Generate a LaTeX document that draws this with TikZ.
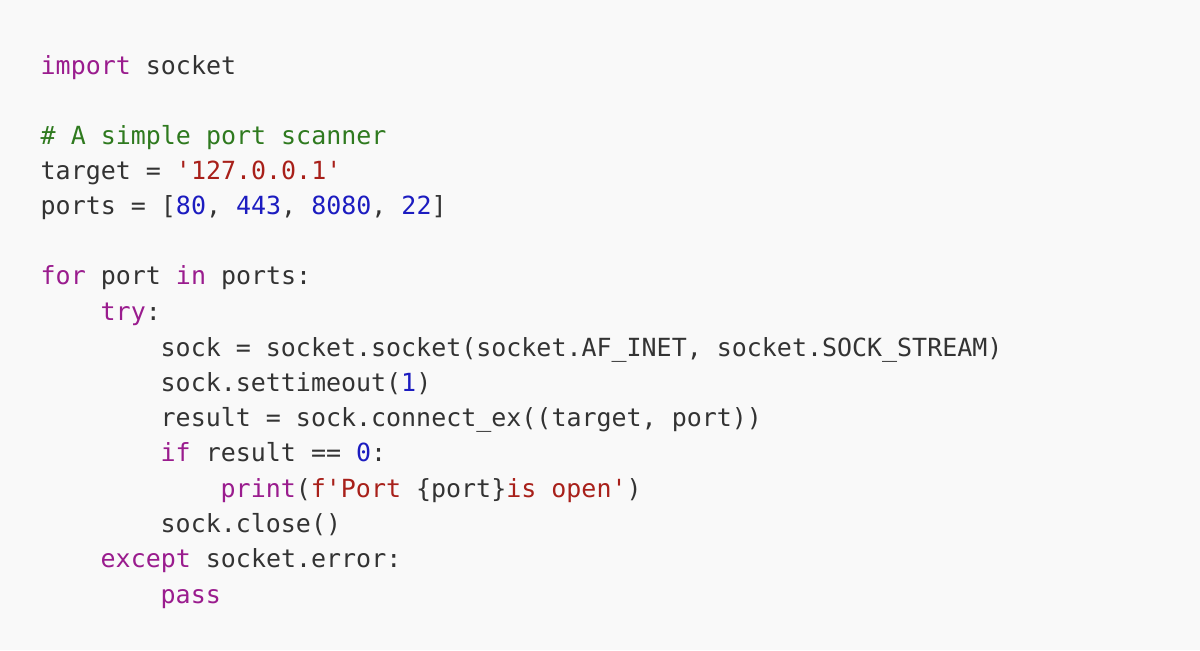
\documentclass[tikz,border=0pt]{standalone}
\usepackage{fontspec}
\newfontfamily\code{DejaVu Sans Mono}[Scale=1]
\definecolor{bg}{HTML}{F9F9F9}
\definecolor{txt}{HTML}{333333}
\definecolor{kw}{HTML}{9A1C8E}
\definecolor{cm}{HTML}{2F7A1F}
\definecolor{st}{HTML}{A8201A}
\definecolor{nm}{HTML}{1C1CC0}
\newcommand{\K}[1]{\textcolor{kw}{#1}}
\newcommand{\Cm}[1]{\textcolor{cm}{#1}}
\newcommand{\Sx}[1]{\textcolor{st}{#1}}
\newcommand{\N}[1]{\textcolor{nm}{#1}}
\begin{document}
\begin{tikzpicture}[x=0.01cm,y=-0.01cm,
  ln/.style={anchor=base west,inner sep=0pt,text=txt,font=\code\fontsize{7.1pt}{8pt}\selectfont}]
\fill[bg] (0,0) rectangle (1200,650);
\node[ln] (l1) at (40,74) {\K{import} socket};
\node[ln] (l2) at (40,144) {\Cm{\# A simple port scanner}};
\node[ln] (l3) at (40,179) {target = \Sx{'127.0.0.1'}};
\node[ln] (l4) at (40,214) {ports = [\N{80}, \N{443}, \N{8080}, \N{22}]};
\node[ln] (l5) at (40,284) {\K{for} port \K{in} ports:};
\node[ln] (l6) at (100,320) {\K{try}:};
\node[ln] (l7) at (160,356) {sock = socket.socket(socket.AF\_INET, socket.SOCK\_STREAM)};
\node[ln] (l8) at (160,391) {sock.settimeout(\N{1})};
\node[ln] (l9) at (160,426) {result = sock.connect\_ex((target, port))};
\node[ln] (l10) at (160,461) {\K{if} result == \N{0}:};
\node[ln] (l11) at (220,497) {\K{print}(\Sx{f'Port }\{port\}\Sx{ is open'})};
\node[ln] (l12) at (160,532) {sock.close()};
\node[ln] (l13) at (100,567) {\K{except} socket.error:};
\node[ln] (l14) at (160,603) {\K{pass}};
\end{tikzpicture}
\end{document}
